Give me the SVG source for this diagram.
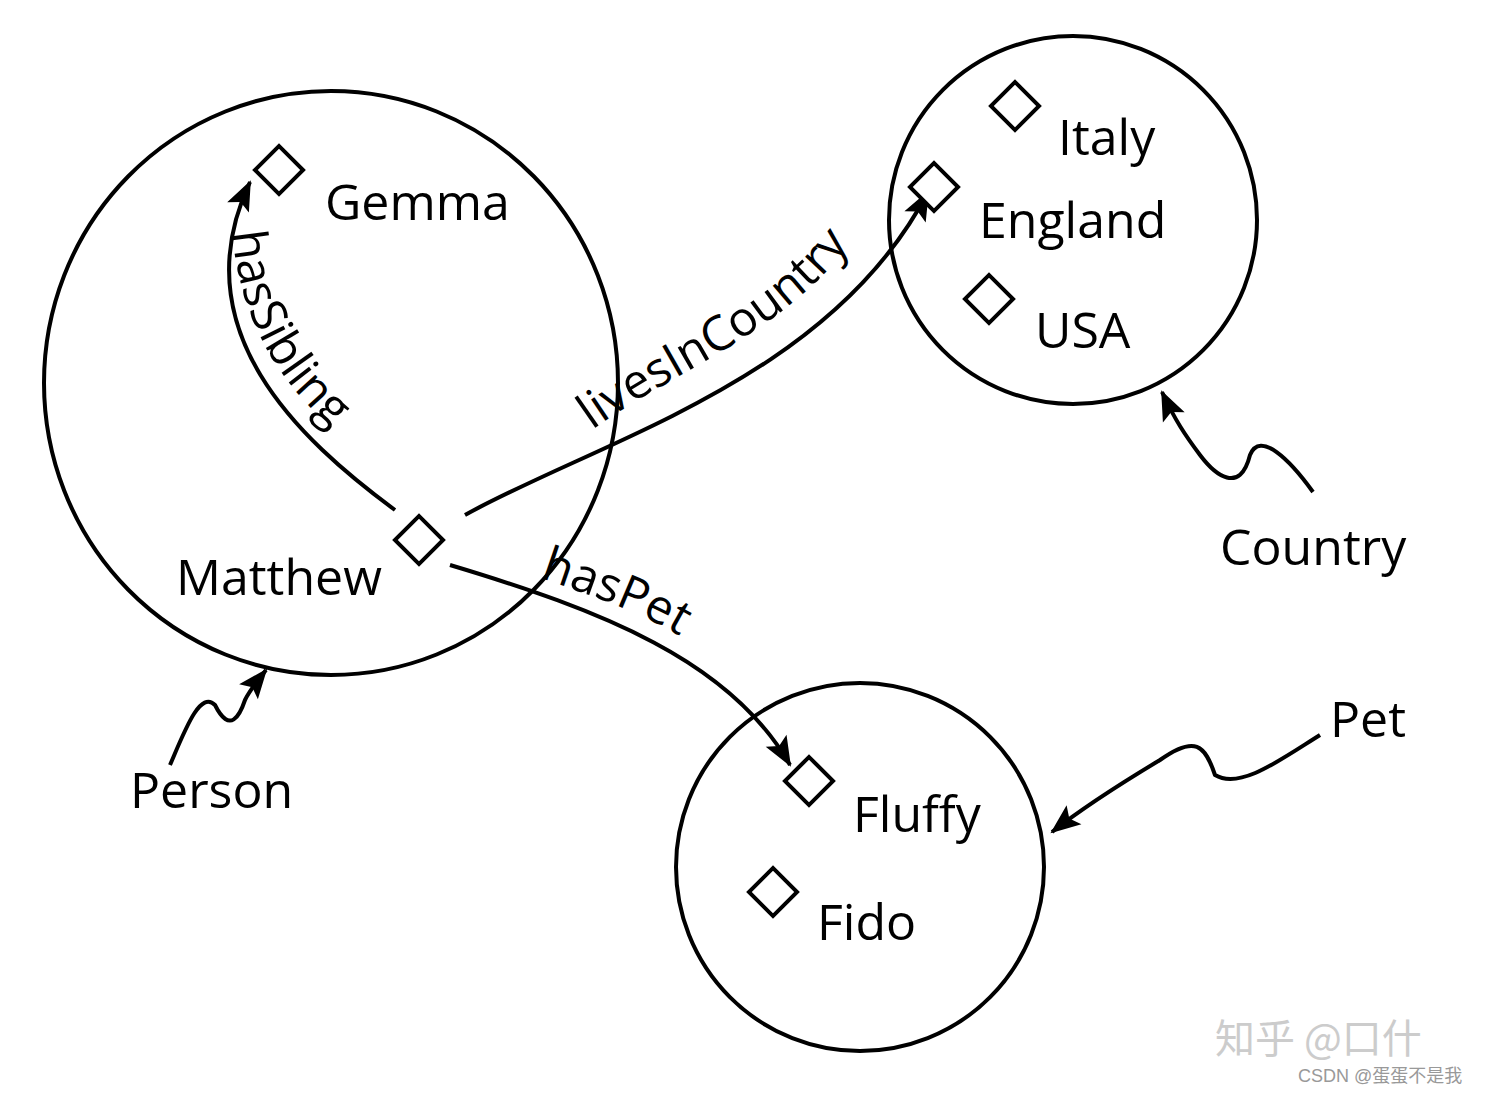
<svg xmlns="http://www.w3.org/2000/svg" width="1486" height="1096" viewBox="0 0 1486 1096">
<style>
.c{fill:none;stroke:#000;stroke-width:4}
.d{fill:#fff;stroke:#000;stroke-width:4}
.t{font-family:"Open Sans","Liberation Sans",sans-serif;font-size:50px;font-weight:500;fill:#000}
.l{font-family:"Open Sans","Liberation Sans",sans-serif;font-size:48px;font-weight:500;fill:#000}
.e{fill:none;stroke:#000;stroke-width:4}
</style>
<defs>
<marker id="m" markerUnits="userSpaceOnUse" orient="auto" markerWidth="40" markerHeight="40" refX="0" refY="0" viewBox="-30 -15 40 30" style="overflow:visible"><path d="M2,0 L-28,-12 L-22,0 L-28,12 Z"/></marker>
<path id="p1" d="M232,232 C240,320 280,390 348,440"/>
<path id="p2" d="M592,430 C690,360 800,330 872,212"/>
<path id="p3" d="M540,578 C590,595 650,615 694,645"/>
</defs>
<g id="person"><ellipse class="c" cx="331" cy="383" rx="287" ry="292"/></g>
<g id="country"><circle class="c" cx="1073" cy="220" r="184"/></g>
<g id="pet"><circle class="c" cx="860" cy="867" r="184"/></g>
<g id="connectors">
<path class="e" d="M395,510 C300,440 180,330 250,182" marker-end="url(#m)"/>
<path class="e" d="M465,515 C600,440 830,380 928,192" marker-end="url(#m)"/>
<path class="e" d="M450,565 C600,610 730,660 790,765" marker-end="url(#m)"/>
<path class="e" d="M170,765 C185,730 200,690 215,705 C230,735 240,715 245,700 C250,690 258,680 266,670" marker-end="url(#m)"/>
<path class="e" d="M1313,492 C1290,460 1260,430 1250,455 C1240,495 1215,475 1200,455 C1185,435 1175,420 1162,392" marker-end="url(#m)"/>
<path class="e" d="M1320,735 C1280,760 1240,790 1215,775 C1205,745 1195,735 1160,760 C1110,790 1080,810 1052,832" marker-end="url(#m)"/>
<text class="l"><textPath href="#p1">hasSibling</textPath></text>
<text class="l"><textPath href="#p2">livesInCountry</textPath></text>
<text class="l"><textPath href="#p3">hasPet</textPath></text>
</g>
<g id="gemma"><rect class="d" x="-17" y="-17" width="34" height="34" transform="translate(279,170) rotate(45)"/><text class="t" x="325" y="220">Gemma</text></g>
<g id="matthew"><rect class="d" x="-17" y="-17" width="34" height="34" transform="translate(419,540) rotate(45)"/><text class="t" x="176" y="595">Matthew</text></g>
<g id="italy"><rect class="d" x="-17" y="-17" width="34" height="34" transform="translate(1015,106) rotate(45)"/><text class="t" x="1058" y="155">Italy</text></g>
<g id="england"><rect class="d" x="-17" y="-17" width="34" height="34" transform="translate(934,187) rotate(45)"/><text class="t" x="979" y="238">England</text></g>
<g id="usa"><rect class="d" x="-17" y="-17" width="34" height="34" transform="translate(989,299) rotate(45)"/><text class="t" x="1035" y="348">USA</text></g>
<g id="fluffy"><rect class="d" x="-17" y="-17" width="34" height="34" transform="translate(809,781) rotate(45)"/><text class="t" x="853" y="832">Fluffy</text></g>
<g id="fido"><rect class="d" x="-17" y="-17" width="34" height="34" transform="translate(773,892) rotate(45)"/><text class="t" x="817" y="940">Fido</text></g>
<g id="labels">
<text class="t" x="130" y="808">Person</text>
<text class="t" x="1220" y="565">Country</text>
<text class="t" x="1330" y="737">Pet</text>
</g>
<text x="1215" y="1053" font-family="'Noto Sans CJK SC',sans-serif" font-size="40" fill="#ccc">知乎 @口什</text>
<text x="1298" y="1082" font-family="'Liberation Sans','Noto Sans CJK SC',sans-serif" font-size="18" fill="#999">CSDN @蛋蛋不是我</text>
</svg>
